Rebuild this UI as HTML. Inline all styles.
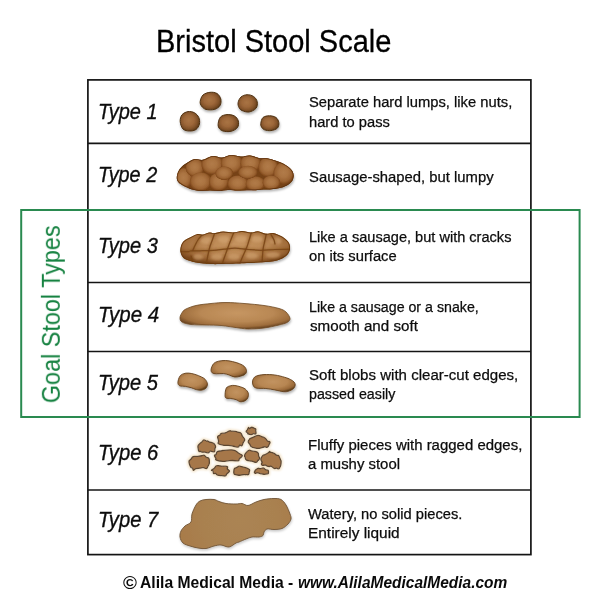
<!DOCTYPE html>
<html><head><meta charset="utf-8"><style>
html,body{margin:0;padding:0;background:#fff;width:600px;height:600px;overflow:hidden}
.t{position:absolute;font-family:"Liberation Sans",sans-serif;line-height:1;white-space:nowrap;transform-origin:0 0}
svg{position:absolute;left:0;top:0}
</style></head><body>
<svg width="600" height="600" viewBox="0 0 600 600">
<defs>
<filter id="sh" x="-30%" y="-30%" width="160%" height="170%"><feDropShadow dx="0.6" dy="2" stdDeviation="1.3" flood-color="#000" flood-opacity="0.30"/></filter>
<filter id="sh2" x="-30%" y="-30%" width="160%" height="170%"><feDropShadow dx="0.5" dy="1.6" stdDeviation="1.2" flood-color="#000" flood-opacity="0.22"/></filter>
<filter id="halo" x="-30%" y="-30%" width="160%" height="160%"><feMorphology in="SourceAlpha" operator="dilate" radius="1.2" result="d"/><feGaussianBlur in="d" stdDeviation="0.8" result="b"/><feFlood flood-color="#f3e3c8"/><feComposite in2="b" operator="in" result="h"/><feMerge><feMergeNode in="h"/><feMergeNode in="SourceGraphic"/></feMerge></filter>
<filter id="bl08"><feGaussianBlur stdDeviation="0.8"/></filter>
<filter id="bl07" x="-20%" y="-20%" width="140%" height="140%"><feGaussianBlur stdDeviation="0.7"/></filter>
<filter id="bl04"><feGaussianBlur stdDeviation="0.4"/></filter>
<radialGradient id="g1" cx="45%" cy="45%" r="58%">
 <stop offset="0" stop-color="#a97444"/><stop offset="0.45" stop-color="#9d6739"/><stop offset="0.75" stop-color="#83532a"/><stop offset="0.92" stop-color="#69421e"/><stop offset="1" stop-color="#573619"/></radialGradient>
<radialGradient id="g2" cx="48%" cy="45%" r="52%">
 <stop offset="0" stop-color="#b17b48"/><stop offset="0.4" stop-color="#ab7442"/><stop offset="0.75" stop-color="#9a6231"/><stop offset="0.95" stop-color="#7e471a"/><stop offset="1" stop-color="#7a4418" stop-opacity="0"/></radialGradient>
<radialGradient id="g3" cx="50%" cy="42%" r="58%">
 <stop offset="0" stop-color="#c69560"/><stop offset="0.5" stop-color="#bb8854"/><stop offset="0.82" stop-color="#a16c3a"/><stop offset="1" stop-color="#7a481c"/></radialGradient>
<radialGradient id="g4" cx="52%" cy="40%" r="60%">
 <stop offset="0" stop-color="#c69662"/><stop offset="0.55" stop-color="#b98854"/><stop offset="0.85" stop-color="#9e6d3c"/><stop offset="1" stop-color="#6a4420"/></radialGradient>
<radialGradient id="g5" cx="48%" cy="42%" r="62%">
 <stop offset="0" stop-color="#c29360"/><stop offset="0.55" stop-color="#b78652"/><stop offset="0.85" stop-color="#986838"/><stop offset="1" stop-color="#60401c"/></radialGradient>
<radialGradient id="g7" gradientUnits="userSpaceOnUse" cx="240" cy="520" r="60">
 <stop offset="0" stop-color="#ab8453"/><stop offset="0.6" stop-color="#a98150"/><stop offset="1" stop-color="#a87b4a"/></radialGradient>
</defs>
<g fill="none" stroke="#141414" stroke-width="1.7">
<rect x="87.9" y="79.9" width="443" height="474.7"/>
<line x1="87.9" y1="143.4" x2="530.9" y2="143.4"/>
<line x1="87.9" y1="210" x2="530.9" y2="210"/>
<line x1="87.9" y1="282.5" x2="530.9" y2="282.5"/>
<line x1="87.9" y1="351.5" x2="530.9" y2="351.5"/>
<line x1="87.9" y1="417" x2="530.9" y2="417"/>
<line x1="87.9" y1="490" x2="530.9" y2="490"/>
</g>
<rect x="21.2" y="210" width="558.4" height="207" fill="none" stroke="#2a8a50" stroke-width="2"/>
<g filter="url(#sh)" stroke="#4f3112" stroke-width="1">
<path d="M180.20,121.50 C180.03,119.13 180.70,116.45 182.00,114.80 C183.30,113.15 185.92,111.93 188.00,111.60 C190.08,111.27 192.70,111.82 194.50,112.80 C196.30,113.78 197.98,115.63 198.80,117.50 C199.62,119.37 199.87,122.00 199.40,124.00 C198.93,126.00 197.65,128.33 196.00,129.50 C194.35,130.67 191.67,131.08 189.50,131.00 C187.33,130.92 184.55,130.58 183.00,129.00 C181.45,127.42 180.37,123.87 180.20,121.50Z" fill="url(#g1)"/>
<path d="M200.20,101.50 C200.45,99.67 201.37,96.53 203.00,95.00 C204.63,93.47 207.67,92.55 210.00,92.30 C212.33,92.05 215.20,92.38 217.00,93.50 C218.80,94.62 220.30,97.00 220.80,99.00 C221.30,101.00 221.05,103.77 220.00,105.50 C218.95,107.23 216.83,108.75 214.50,109.40 C212.17,110.05 208.17,109.97 206.00,109.40 C203.83,108.83 202.47,107.32 201.50,106.00 C200.53,104.68 199.95,103.33 200.20,101.50Z" fill="url(#g1)"/>
<path d="M218.20,123.50 C218.45,121.67 219.03,118.48 220.50,117.00 C221.97,115.52 224.67,114.77 227.00,114.60 C229.33,114.43 232.62,114.93 234.50,116.00 C236.38,117.07 237.80,119.08 238.30,121.00 C238.80,122.92 238.72,125.78 237.50,127.50 C236.28,129.22 233.42,130.72 231.00,131.30 C228.58,131.88 225.00,131.55 223.00,131.00 C221.00,130.45 219.80,129.25 219.00,128.00 C218.20,126.75 217.95,125.33 218.20,123.50Z" fill="url(#g1)"/>
<path d="M238.10,102.60 C238.43,100.85 239.50,98.32 241.00,97.00 C242.50,95.68 245.00,94.78 247.10,94.70 C249.20,94.62 251.92,95.33 253.60,96.50 C255.28,97.67 256.80,99.73 257.20,101.70 C257.60,103.67 257.37,106.58 256.00,108.30 C254.63,110.02 251.33,111.63 249.00,112.00 C246.67,112.37 243.67,111.25 242.00,110.50 C240.33,109.75 239.65,108.82 239.00,107.50 C238.35,106.18 237.77,104.35 238.10,102.60Z" fill="url(#g1)"/>
<path d="M260.80,123.50 C261.05,121.92 261.55,118.78 263.00,117.50 C264.45,116.22 267.33,115.80 269.50,115.80 C271.67,115.80 274.45,116.38 276.00,117.50 C277.55,118.62 278.55,120.75 278.80,122.50 C279.05,124.25 278.80,126.65 277.50,128.00 C276.20,129.35 273.17,130.30 271.00,130.60 C268.83,130.90 266.08,130.40 264.50,129.80 C262.92,129.20 262.12,128.05 261.50,127.00 C260.88,125.95 260.55,125.08 260.80,123.50Z" fill="url(#g1)"/>
</g>
<path d="M176.80,177.70 C176.80,175.95 177.43,173.37 178.30,171.50 C179.17,169.63 180.38,168.03 182.00,166.50 C183.62,164.97 185.83,163.55 188.00,162.30 C190.17,161.05 192.50,159.42 195.00,159.00 C197.50,158.58 200.08,160.30 203.00,159.80 C205.92,159.30 209.33,156.37 212.50,156.00 C215.67,155.63 218.92,157.77 222.00,157.60 C225.08,157.43 227.83,155.17 231.00,155.00 C234.17,154.83 237.83,156.50 241.00,156.60 C244.17,156.70 246.88,155.33 250.00,155.60 C253.12,155.87 256.70,157.73 259.70,158.20 C262.70,158.67 265.28,157.97 268.00,158.40 C270.72,158.83 273.50,159.95 276.00,160.80 C278.50,161.65 280.92,162.47 283.00,163.50 C285.08,164.53 286.95,165.75 288.50,167.00 C290.05,168.25 291.45,169.57 292.30,171.00 C293.15,172.43 293.57,174.02 293.60,175.60 C293.63,177.18 293.35,179.02 292.50,180.50 C291.65,181.98 290.42,183.28 288.50,184.50 C286.58,185.72 283.83,187.02 281.00,187.80 C278.17,188.58 274.33,188.90 271.50,189.20 C268.67,189.50 266.67,189.43 264.00,189.60 C261.33,189.77 258.33,190.10 255.50,190.20 C252.67,190.30 249.92,190.13 247.00,190.20 C244.08,190.27 241.17,190.65 238.00,190.60 C234.83,190.55 231.17,189.83 228.00,189.90 C224.83,189.97 222.00,190.92 219.00,191.00 C216.00,191.08 213.00,190.40 210.00,190.40 C207.00,190.40 204.00,191.15 201.00,191.00 C198.00,190.85 195.00,190.42 192.00,189.50 C189.00,188.58 185.28,186.75 183.00,185.50 C180.72,184.25 179.33,183.30 178.30,182.00 C177.27,180.70 176.80,179.45 176.80,177.70Z" fill="#764218" filter="url(#sh)"/>
<clipPath id="c2"><path d="M176.80,177.70 C176.80,175.95 177.43,173.37 178.30,171.50 C179.17,169.63 180.38,168.03 182.00,166.50 C183.62,164.97 185.83,163.55 188.00,162.30 C190.17,161.05 192.50,159.42 195.00,159.00 C197.50,158.58 200.08,160.30 203.00,159.80 C205.92,159.30 209.33,156.37 212.50,156.00 C215.67,155.63 218.92,157.77 222.00,157.60 C225.08,157.43 227.83,155.17 231.00,155.00 C234.17,154.83 237.83,156.50 241.00,156.60 C244.17,156.70 246.88,155.33 250.00,155.60 C253.12,155.87 256.70,157.73 259.70,158.20 C262.70,158.67 265.28,157.97 268.00,158.40 C270.72,158.83 273.50,159.95 276.00,160.80 C278.50,161.65 280.92,162.47 283.00,163.50 C285.08,164.53 286.95,165.75 288.50,167.00 C290.05,168.25 291.45,169.57 292.30,171.00 C293.15,172.43 293.57,174.02 293.60,175.60 C293.63,177.18 293.35,179.02 292.50,180.50 C291.65,181.98 290.42,183.28 288.50,184.50 C286.58,185.72 283.83,187.02 281.00,187.80 C278.17,188.58 274.33,188.90 271.50,189.20 C268.67,189.50 266.67,189.43 264.00,189.60 C261.33,189.77 258.33,190.10 255.50,190.20 C252.67,190.30 249.92,190.13 247.00,190.20 C244.08,190.27 241.17,190.65 238.00,190.60 C234.83,190.55 231.17,189.83 228.00,189.90 C224.83,189.97 222.00,190.92 219.00,191.00 C216.00,191.08 213.00,190.40 210.00,190.40 C207.00,190.40 204.00,191.15 201.00,191.00 C198.00,190.85 195.00,190.42 192.00,189.50 C189.00,188.58 185.28,186.75 183.00,185.50 C180.72,184.25 179.33,183.30 178.30,182.00 C177.27,180.70 176.80,179.45 176.80,177.70Z"/></clipPath>
<g clip-path="url(#c2)"><g filter="url(#bl07)">
<ellipse cx="183.7" cy="178.8" rx="8.799999999999999" ry="10.8" fill="url(#g2)"/>
<ellipse cx="194.9" cy="168.1" rx="9.2" ry="9.4" fill="url(#g2)"/>
<ellipse cx="212.5" cy="164.9" rx="11.0" ry="10.4" fill="url(#g2)"/>
<ellipse cx="231.8" cy="163.8" rx="11.0" ry="10.2" fill="url(#g2)"/>
<ellipse cx="250.6" cy="163.6" rx="10.399999999999999" ry="9.2" fill="url(#g2)"/>
<ellipse cx="268.2" cy="167.4" rx="10.0" ry="10.3" fill="url(#g2)"/>
<ellipse cx="284" cy="173.5" rx="10.7" ry="11.4" fill="url(#g2)"/>
<ellipse cx="200.8" cy="182" rx="11.0" ry="9.8" fill="url(#g2)"/>
<ellipse cx="218.9" cy="182" rx="10.0" ry="9.4" fill="url(#g2)"/>
<ellipse cx="237.9" cy="183.6" rx="10.399999999999999" ry="8.2" fill="url(#g2)"/>
<ellipse cx="255.5" cy="183.9" rx="9.899999999999999" ry="7.6" fill="url(#g2)"/>
<ellipse cx="271.5" cy="182.8" rx="9.0" ry="7.4" fill="url(#g2)"/>
<ellipse cx="224.3" cy="173.5" rx="9.0" ry="7.0" fill="url(#g2)"/>
<ellipse cx="248" cy="172.6" rx="9.799999999999999" ry="6.8" fill="url(#g2)"/>
</g>
<path d="M176.80,177.70 C176.80,175.95 177.43,173.37 178.30,171.50 C179.17,169.63 180.38,168.03 182.00,166.50 C183.62,164.97 185.83,163.55 188.00,162.30 C190.17,161.05 192.50,159.42 195.00,159.00 C197.50,158.58 200.08,160.30 203.00,159.80 C205.92,159.30 209.33,156.37 212.50,156.00 C215.67,155.63 218.92,157.77 222.00,157.60 C225.08,157.43 227.83,155.17 231.00,155.00 C234.17,154.83 237.83,156.50 241.00,156.60 C244.17,156.70 246.88,155.33 250.00,155.60 C253.12,155.87 256.70,157.73 259.70,158.20 C262.70,158.67 265.28,157.97 268.00,158.40 C270.72,158.83 273.50,159.95 276.00,160.80 C278.50,161.65 280.92,162.47 283.00,163.50 C285.08,164.53 286.95,165.75 288.50,167.00 C290.05,168.25 291.45,169.57 292.30,171.00 C293.15,172.43 293.57,174.02 293.60,175.60 C293.63,177.18 293.35,179.02 292.50,180.50 C291.65,181.98 290.42,183.28 288.50,184.50 C286.58,185.72 283.83,187.02 281.00,187.80 C278.17,188.58 274.33,188.90 271.50,189.20 C268.67,189.50 266.67,189.43 264.00,189.60 C261.33,189.77 258.33,190.10 255.50,190.20 C252.67,190.30 249.92,190.13 247.00,190.20 C244.08,190.27 241.17,190.65 238.00,190.60 C234.83,190.55 231.17,189.83 228.00,189.90 C224.83,189.97 222.00,190.92 219.00,191.00 C216.00,191.08 213.00,190.40 210.00,190.40 C207.00,190.40 204.00,191.15 201.00,191.00 C198.00,190.85 195.00,190.42 192.00,189.50 C189.00,188.58 185.28,186.75 183.00,185.50 C180.72,184.25 179.33,183.30 178.30,182.00 C177.27,180.70 176.80,179.45 176.80,177.70Z" fill="none" stroke="#5e3310" stroke-width="1.5" filter="url(#bl04)"/>
</g>
<clipPath id="c3"><path d="M180.40,251.00 C180.23,249.33 180.57,247.50 181.00,246.00 C181.43,244.50 182.17,243.08 183.00,242.00 C183.83,240.92 184.67,240.33 186.00,239.50 C187.33,238.67 189.17,237.88 191.00,237.00 C192.83,236.12 195.00,234.60 197.00,234.20 C199.00,233.80 201.00,234.88 203.00,234.60 C205.00,234.32 207.08,232.73 209.00,232.50 C210.92,232.27 212.17,233.35 214.50,233.20 C216.83,233.05 219.83,231.73 223.00,231.60 C226.17,231.47 230.33,232.50 233.50,232.40 C236.67,232.30 239.08,230.97 242.00,231.00 C244.92,231.03 248.33,232.55 251.00,232.60 C253.67,232.65 255.50,231.10 258.00,231.30 C260.50,231.50 263.50,233.52 266.00,233.80 C268.50,234.08 270.33,232.55 273.00,233.00 C275.67,233.45 279.50,235.08 282.00,236.50 C284.50,237.92 286.68,239.92 288.00,241.50 C289.32,243.08 289.65,244.42 289.90,246.00 C290.15,247.58 290.15,249.33 289.50,251.00 C288.85,252.67 288.08,254.42 286.00,256.00 C283.92,257.58 281.00,259.45 277.00,260.50 C273.00,261.55 267.00,261.88 262.00,262.30 C257.00,262.72 251.33,262.78 247.00,263.00 C242.67,263.22 240.17,263.43 236.00,263.60 C231.83,263.77 226.17,263.93 222.00,264.00 C217.83,264.07 215.33,264.25 211.00,264.00 C206.67,263.75 200.17,263.25 196.00,262.50 C191.83,261.75 188.33,260.58 186.00,259.50 C183.67,258.42 182.93,257.42 182.00,256.00 C181.07,254.58 180.57,252.67 180.40,251.00Z"/></clipPath>
<path d="M180.40,251.00 C180.23,249.33 180.57,247.50 181.00,246.00 C181.43,244.50 182.17,243.08 183.00,242.00 C183.83,240.92 184.67,240.33 186.00,239.50 C187.33,238.67 189.17,237.88 191.00,237.00 C192.83,236.12 195.00,234.60 197.00,234.20 C199.00,233.80 201.00,234.88 203.00,234.60 C205.00,234.32 207.08,232.73 209.00,232.50 C210.92,232.27 212.17,233.35 214.50,233.20 C216.83,233.05 219.83,231.73 223.00,231.60 C226.17,231.47 230.33,232.50 233.50,232.40 C236.67,232.30 239.08,230.97 242.00,231.00 C244.92,231.03 248.33,232.55 251.00,232.60 C253.67,232.65 255.50,231.10 258.00,231.30 C260.50,231.50 263.50,233.52 266.00,233.80 C268.50,234.08 270.33,232.55 273.00,233.00 C275.67,233.45 279.50,235.08 282.00,236.50 C284.50,237.92 286.68,239.92 288.00,241.50 C289.32,243.08 289.65,244.42 289.90,246.00 C290.15,247.58 290.15,249.33 289.50,251.00 C288.85,252.67 288.08,254.42 286.00,256.00 C283.92,257.58 281.00,259.45 277.00,260.50 C273.00,261.55 267.00,261.88 262.00,262.30 C257.00,262.72 251.33,262.78 247.00,263.00 C242.67,263.22 240.17,263.43 236.00,263.60 C231.83,263.77 226.17,263.93 222.00,264.00 C217.83,264.07 215.33,264.25 211.00,264.00 C206.67,263.75 200.17,263.25 196.00,262.50 C191.83,261.75 188.33,260.58 186.00,259.50 C183.67,258.42 182.93,257.42 182.00,256.00 C181.07,254.58 180.57,252.67 180.40,251.00Z" fill="url(#g3)" filter="url(#sh)"/>
<g clip-path="url(#c3)">
<ellipse cx="207" cy="240.5" rx="7" ry="3.5" fill="#d8ab7a" opacity="0.5" filter="url(#bl08)"/>
<ellipse cx="224" cy="239.5" rx="6" ry="3.5" fill="#d8ab7a" opacity="0.5" filter="url(#bl08)"/>
<ellipse cx="241" cy="239" rx="6" ry="3.5" fill="#d8ab7a" opacity="0.5" filter="url(#bl08)"/>
<ellipse cx="257" cy="239" rx="6" ry="3.5" fill="#d8ab7a" opacity="0.5" filter="url(#bl08)"/>
<ellipse cx="276" cy="241" rx="6" ry="3.5" fill="#d8ab7a" opacity="0.5" filter="url(#bl08)"/>
<ellipse cx="198" cy="257" rx="5" ry="3" fill="#d8ab7a" opacity="0.5" filter="url(#bl08)"/>
<ellipse cx="217" cy="257" rx="6" ry="3" fill="#d8ab7a" opacity="0.5" filter="url(#bl08)"/>
<ellipse cx="234" cy="257" rx="6" ry="3" fill="#d8ab7a" opacity="0.5" filter="url(#bl08)"/>
<ellipse cx="252" cy="256" rx="6" ry="3" fill="#d8ab7a" opacity="0.5" filter="url(#bl08)"/>
<ellipse cx="273" cy="255" rx="7" ry="3" fill="#d8ab7a" opacity="0.5" filter="url(#bl08)"/>
<g fill="none" stroke="#6e3a10" stroke-width="3.2" stroke-opacity="0.28" stroke-linecap="round" filter="url(#bl08)">
<path d="M181.00,251.50 C182.33,251.52 187.67,251.58 189.00,251.60"/>
<path d="M192.80,250.30 C193.25,249.33 194.60,246.30 195.50,244.50 C196.40,242.70 197.12,241.08 198.20,239.50 C199.28,237.92 201.37,235.75 202.00,235.00"/>
<path d="M190.00,251.00 C191.67,250.97 196.12,250.92 200.00,250.80 C203.88,250.68 209.30,250.57 213.30,250.30 C217.30,250.03 220.38,249.55 224.00,249.20 C227.62,248.85 231.00,248.15 235.00,248.20 C239.00,248.25 243.67,249.15 248.00,249.50 C252.33,249.85 256.50,250.30 261.00,250.30 C265.50,250.30 270.17,249.67 275.00,249.50 C279.83,249.33 287.50,249.33 290.00,249.30"/>
<path d="M215.00,232.00 C214.58,233.25 213.32,237.17 212.50,239.50 C211.68,241.83 210.80,243.67 210.10,246.00 C209.40,248.33 208.85,250.97 208.30,253.50 C207.75,256.03 207.10,259.28 206.80,261.20 C206.50,263.12 206.55,264.37 206.50,265.00"/>
<path d="M234.20,231.50 C233.70,232.75 232.15,236.58 231.20,239.00 C230.25,241.42 229.40,243.58 228.50,246.00 C227.60,248.42 226.70,250.97 225.80,253.50 C224.90,256.03 223.60,259.28 223.10,261.20 C222.60,263.12 222.85,264.37 222.80,265.00"/>
<path d="M191.00,256.00 C191.25,257.00 192.25,261.00 192.50,262.00"/>
<path d="M251.50,232.00 C251.13,233.25 250.07,237.00 249.30,239.50 C248.53,242.00 247.85,244.50 246.90,247.00 C245.95,249.50 244.68,251.95 243.60,254.50 C242.52,257.05 241.00,260.55 240.40,262.30 C239.80,264.05 240.07,264.55 240.00,265.00"/>
<path d="M266.40,233.50 C266.13,234.75 265.33,238.55 264.80,241.00 C264.27,243.45 263.57,245.92 263.20,248.20 C262.83,250.48 262.78,252.53 262.60,254.70 C262.42,256.87 262.20,259.48 262.10,261.20 C262.00,262.92 262.02,264.37 262.00,265.00"/>
<path d="M271.00,234.50 C271.50,235.42 273.33,238.42 274.00,240.00 C274.67,241.58 274.83,243.33 275.00,244.00"/>
</g>
<g fill="none" stroke="#7a4516" stroke-width="1.25" stroke-opacity="0.9" stroke-linecap="round" stroke-linejoin="round" filter="url(#bl04)">
<path d="M181.00,251.50 C182.33,251.52 187.67,251.58 189.00,251.60"/>
<path d="M192.80,250.30 C193.25,249.33 194.60,246.30 195.50,244.50 C196.40,242.70 197.12,241.08 198.20,239.50 C199.28,237.92 201.37,235.75 202.00,235.00"/>
<path d="M190.00,251.00 C191.67,250.97 196.12,250.92 200.00,250.80 C203.88,250.68 209.30,250.57 213.30,250.30 C217.30,250.03 220.38,249.55 224.00,249.20 C227.62,248.85 231.00,248.15 235.00,248.20 C239.00,248.25 243.67,249.15 248.00,249.50 C252.33,249.85 256.50,250.30 261.00,250.30 C265.50,250.30 270.17,249.67 275.00,249.50 C279.83,249.33 287.50,249.33 290.00,249.30"/>
<path d="M215.00,232.00 C214.58,233.25 213.32,237.17 212.50,239.50 C211.68,241.83 210.80,243.67 210.10,246.00 C209.40,248.33 208.85,250.97 208.30,253.50 C207.75,256.03 207.10,259.28 206.80,261.20 C206.50,263.12 206.55,264.37 206.50,265.00"/>
<path d="M234.20,231.50 C233.70,232.75 232.15,236.58 231.20,239.00 C230.25,241.42 229.40,243.58 228.50,246.00 C227.60,248.42 226.70,250.97 225.80,253.50 C224.90,256.03 223.60,259.28 223.10,261.20 C222.60,263.12 222.85,264.37 222.80,265.00"/>
<path d="M191.00,256.00 C191.25,257.00 192.25,261.00 192.50,262.00"/>
<path d="M251.50,232.00 C251.13,233.25 250.07,237.00 249.30,239.50 C248.53,242.00 247.85,244.50 246.90,247.00 C245.95,249.50 244.68,251.95 243.60,254.50 C242.52,257.05 241.00,260.55 240.40,262.30 C239.80,264.05 240.07,264.55 240.00,265.00"/>
<path d="M266.40,233.50 C266.13,234.75 265.33,238.55 264.80,241.00 C264.27,243.45 263.57,245.92 263.20,248.20 C262.83,250.48 262.78,252.53 262.60,254.70 C262.42,256.87 262.20,259.48 262.10,261.20 C262.00,262.92 262.02,264.37 262.00,265.00"/>
<path d="M271.00,234.50 C271.50,235.42 273.33,238.42 274.00,240.00 C274.67,241.58 274.83,243.33 275.00,244.00"/>
</g>
<path d="M180.40,251.00 C180.23,249.33 180.57,247.50 181.00,246.00 C181.43,244.50 182.17,243.08 183.00,242.00 C183.83,240.92 184.67,240.33 186.00,239.50 C187.33,238.67 189.17,237.88 191.00,237.00 C192.83,236.12 195.00,234.60 197.00,234.20 C199.00,233.80 201.00,234.88 203.00,234.60 C205.00,234.32 207.08,232.73 209.00,232.50 C210.92,232.27 212.17,233.35 214.50,233.20 C216.83,233.05 219.83,231.73 223.00,231.60 C226.17,231.47 230.33,232.50 233.50,232.40 C236.67,232.30 239.08,230.97 242.00,231.00 C244.92,231.03 248.33,232.55 251.00,232.60 C253.67,232.65 255.50,231.10 258.00,231.30 C260.50,231.50 263.50,233.52 266.00,233.80 C268.50,234.08 270.33,232.55 273.00,233.00 C275.67,233.45 279.50,235.08 282.00,236.50 C284.50,237.92 286.68,239.92 288.00,241.50 C289.32,243.08 289.65,244.42 289.90,246.00 C290.15,247.58 290.15,249.33 289.50,251.00 C288.85,252.67 288.08,254.42 286.00,256.00 C283.92,257.58 281.00,259.45 277.00,260.50 C273.00,261.55 267.00,261.88 262.00,262.30 C257.00,262.72 251.33,262.78 247.00,263.00 C242.67,263.22 240.17,263.43 236.00,263.60 C231.83,263.77 226.17,263.93 222.00,264.00 C217.83,264.07 215.33,264.25 211.00,264.00 C206.67,263.75 200.17,263.25 196.00,262.50 C191.83,261.75 188.33,260.58 186.00,259.50 C183.67,258.42 182.93,257.42 182.00,256.00 C181.07,254.58 180.57,252.67 180.40,251.00Z" fill="none" stroke="#6a3a10" stroke-width="1.8" filter="url(#bl04)"/>
</g>
<path d="M180.00,317.50 C180.08,315.83 181.50,313.42 182.50,312.00 C183.50,310.58 183.75,310.08 186.00,309.00 C188.25,307.92 191.83,306.42 196.00,305.50 C200.17,304.58 206.00,304.00 211.00,303.50 C216.00,303.00 220.50,302.50 226.00,302.50 C231.50,302.50 237.67,303.00 244.00,303.50 C250.33,304.00 258.17,304.67 264.00,305.50 C269.83,306.33 275.33,307.42 279.00,308.50 C282.67,309.58 284.17,310.33 286.00,312.00 C287.83,313.67 289.83,316.75 290.00,318.50 C290.17,320.25 288.83,321.42 287.00,322.50 C285.17,323.58 282.83,324.08 279.00,325.00 C275.17,325.92 269.00,327.33 264.00,328.00 C259.00,328.67 253.17,329.00 249.00,329.00 C244.83,329.00 243.67,328.58 239.00,328.00 C234.33,327.42 226.50,326.00 221.00,325.50 C215.50,325.00 211.00,325.17 206.00,325.00 C201.00,324.83 195.00,325.00 191.00,324.50 C187.00,324.00 183.83,323.17 182.00,322.00 C180.17,320.83 179.92,319.17 180.00,317.50Z" fill="url(#g4)" stroke="#6f4a24" stroke-width="0.8" filter="url(#sh)"/>
<g filter="url(#sh)" stroke="#63401c" stroke-width="0.9">
<path d="M177.90,382.60 C177.90,381.02 178.85,377.78 179.80,376.30 C180.75,374.82 182.12,374.23 183.60,373.70 C185.08,373.17 186.80,372.98 188.70,373.10 C190.60,373.22 192.90,373.77 195.00,374.40 C197.10,375.03 199.60,376.07 201.30,376.90 C203.00,377.73 204.18,378.23 205.20,379.40 C206.22,380.57 207.30,382.42 207.40,383.90 C207.50,385.38 206.82,387.25 205.80,388.30 C204.78,389.35 202.88,389.98 201.30,390.20 C199.72,390.42 197.98,390.02 196.30,389.60 C194.62,389.18 193.00,388.23 191.20,387.70 C189.40,387.17 187.40,386.72 185.50,386.40 C183.60,386.08 181.07,386.43 179.80,385.80 C178.53,385.17 177.90,384.18 177.90,382.60Z" fill="url(#g5)"/>
<path d="M211.10,369.30 C211.33,367.78 212.37,365.05 213.60,363.70 C214.83,362.35 216.52,361.73 218.50,361.20 C220.48,360.67 223.17,360.43 225.50,360.50 C227.83,360.57 230.17,361.07 232.50,361.60 C234.83,362.13 237.52,362.88 239.50,363.70 C241.48,364.52 243.23,365.33 244.40,366.50 C245.57,367.67 246.38,369.42 246.50,370.70 C246.62,371.98 246.15,373.27 245.10,374.20 C244.05,375.13 241.95,375.83 240.20,376.30 C238.45,376.77 236.47,377.23 234.60,377.00 C232.73,376.77 230.87,375.48 229.00,374.90 C227.13,374.32 225.50,373.68 223.40,373.50 C221.30,373.32 218.27,373.92 216.40,373.80 C214.53,373.68 213.08,373.55 212.20,372.80 C211.32,372.05 210.87,370.82 211.10,369.30Z" fill="url(#g5)"/>
<path d="M225.10,394.30 C225.18,392.62 225.47,389.33 226.40,387.90 C227.33,386.47 229.28,386.10 230.70,385.70 C232.12,385.30 233.30,385.32 234.90,385.50 C236.50,385.68 238.60,386.23 240.30,386.80 C242.00,387.37 243.77,387.83 245.10,388.90 C246.43,389.97 247.87,391.68 248.30,393.20 C248.73,394.72 248.23,396.75 247.70,398.00 C247.17,399.25 246.33,400.08 245.10,400.70 C243.87,401.32 241.82,401.88 240.30,401.70 C238.78,401.52 237.60,400.13 236.00,399.60 C234.40,399.07 232.38,398.77 230.70,398.50 C229.02,398.23 226.83,398.70 225.90,398.00 C224.97,397.30 225.02,395.98 225.10,394.30Z" fill="url(#g5)"/>
<path d="M252.50,382.00 C252.50,380.72 252.83,379.50 253.50,378.50 C254.17,377.50 254.75,376.65 256.50,376.00 C258.25,375.35 260.95,374.77 264.00,374.60 C267.05,374.43 271.35,374.55 274.80,375.00 C278.25,375.45 282.08,376.55 284.70,377.30 C287.32,378.05 288.95,378.72 290.50,379.50 C292.05,380.28 293.22,381.08 294.00,382.00 C294.78,382.92 295.28,383.92 295.20,385.00 C295.12,386.08 294.53,387.50 293.50,388.50 C292.47,389.50 290.62,390.47 289.00,391.00 C287.38,391.53 286.17,391.88 283.80,391.70 C281.43,391.52 277.80,390.43 274.80,389.90 C271.80,389.37 268.77,388.78 265.80,388.50 C262.83,388.22 259.05,388.58 257.00,388.20 C254.95,387.82 254.25,387.23 253.50,386.20 C252.75,385.17 252.50,383.28 252.50,382.00Z" fill="url(#g5)"/>
</g>
<g filter="url(#halo)"><g fill="#a6774a" stroke="#5c4632" stroke-width="1.3" stroke-linejoin="round" filter="url(#bl04)">
<path d="M246.08,431.57 C245.90,430.86 246.63,430.96 247.19,430.02 C247.76,429.07 247.98,427.86 248.50,427.50 C249.02,427.15 248.67,428.54 249.42,428.49 C250.17,428.44 250.53,427.31 251.71,427.27 C252.90,427.24 253.53,427.94 254.49,428.35 C255.46,428.77 255.54,428.57 255.84,429.06 C256.14,429.55 255.73,429.41 255.77,430.44 C255.81,431.47 256.27,432.66 256.02,433.49 C255.76,434.32 255.21,433.96 254.69,433.99 C254.16,434.01 254.56,433.45 253.77,433.60 C252.99,433.76 252.66,434.56 251.31,434.65 C249.96,434.73 248.76,434.32 247.98,433.95 C247.21,433.58 248.43,433.61 247.98,433.06 C247.54,432.50 246.27,432.28 246.08,431.57Z"/>
<path d="M217.65,436.71 C217.92,435.33 218.88,435.95 219.74,435.17 C220.60,434.40 220.08,433.91 221.33,433.38 C222.58,432.85 223.20,433.49 225.11,432.90 C227.02,432.31 228.07,431.29 229.51,430.86 C230.94,430.42 229.86,430.92 231.27,431.05 C232.68,431.17 233.96,431.16 235.54,431.40 C237.13,431.64 236.80,431.68 238.05,432.08 C239.30,432.48 239.87,432.15 240.91,433.12 C241.95,434.09 241.62,434.74 242.51,436.24 C243.40,437.74 244.56,438.05 244.73,439.55 C244.91,441.04 243.91,441.18 243.24,442.64 C242.57,444.09 242.69,445.20 241.87,445.79 C241.05,446.37 240.59,444.84 239.72,445.16 C238.86,445.48 239.64,446.89 238.18,447.14 C236.71,447.40 235.74,446.66 233.45,446.26 C231.15,445.86 230.57,445.66 228.34,445.44 C226.11,445.22 226.21,445.70 223.88,445.32 C221.55,444.94 219.60,444.79 218.36,443.80 C217.12,442.81 218.73,442.74 218.57,441.08 C218.40,439.43 217.38,438.09 217.65,436.71Z"/>
<path d="M248.14,441.78 C248.12,440.60 249.09,439.87 249.61,439.09 C250.13,438.31 249.11,439.08 250.37,438.43 C251.63,437.78 253.15,437.03 255.00,436.32 C256.84,435.61 256.71,435.32 258.28,435.37 C259.86,435.42 260.11,435.85 261.75,436.53 C263.39,437.21 263.97,437.25 265.31,438.27 C266.65,439.29 266.42,440.02 267.51,440.90 C268.60,441.77 269.59,441.24 270.00,442.02 C270.40,442.81 269.86,443.05 269.26,444.25 C268.66,445.45 268.61,446.51 267.42,447.15 C266.22,447.79 266.03,446.71 264.13,447.00 C262.23,447.29 261.39,448.14 259.27,448.39 C257.15,448.64 256.90,448.48 255.05,448.08 C253.20,447.69 252.59,447.63 251.33,446.70 C250.08,445.78 250.43,445.28 249.69,444.13 C248.94,442.98 248.16,442.96 248.14,441.78Z"/>
<path d="M197.93,446.05 C198.13,445.16 198.30,445.27 198.94,444.49 C199.59,443.71 199.99,443.33 200.70,442.71 C201.42,442.10 201.27,442.49 201.99,441.85 C202.71,441.22 202.70,440.17 203.78,439.98 C204.86,439.79 205.73,440.82 206.61,441.03 C207.50,441.25 206.87,440.67 207.58,440.92 C208.29,441.16 208.79,441.74 209.66,442.08 C210.54,442.42 210.33,442.03 211.33,442.39 C212.33,442.74 212.96,442.67 213.96,443.60 C214.96,444.52 215.36,445.15 215.60,446.35 C215.84,447.54 215.28,447.42 214.99,448.71 C214.69,450.01 215.39,451.34 214.33,451.88 C213.27,452.43 211.75,450.85 210.44,451.05 C209.12,451.25 209.96,452.48 208.68,452.74 C207.40,453.01 206.41,452.30 204.95,452.18 C203.50,452.06 203.49,452.37 202.45,452.21 C201.41,452.05 201.31,451.72 200.48,451.50 C199.65,451.28 199.45,452.00 198.89,451.25 C198.33,450.51 198.30,449.52 198.08,448.30 C197.86,447.09 197.73,446.94 197.93,446.05Z"/>
<path d="M214.44,455.44 C214.45,454.50 215.27,455.38 215.96,454.48 C216.65,453.57 216.22,452.39 217.40,451.56 C218.57,450.72 219.73,451.13 220.99,450.88 C222.25,450.63 220.84,450.71 222.80,450.50 C224.76,450.28 226.63,450.00 229.37,449.96 C232.10,449.93 232.31,449.56 234.52,450.33 C236.72,451.11 237.00,452.06 238.83,453.30 C240.67,454.55 242.23,454.39 242.37,455.67 C242.51,456.95 240.41,457.59 239.44,458.79 C238.47,459.99 239.87,460.42 238.22,460.82 C236.56,461.22 234.73,460.50 232.36,460.49 C229.99,460.49 230.26,460.60 228.05,460.81 C225.84,461.01 225.63,461.57 222.89,461.39 C220.15,461.21 217.93,460.71 216.29,460.05 C214.66,459.38 216.33,459.60 215.89,458.53 C215.46,457.45 214.42,456.39 214.44,455.44Z"/>
<path d="M244.59,455.45 C244.78,454.39 244.77,454.03 245.86,452.82 C246.95,451.60 247.88,450.68 249.27,450.23 C250.66,449.79 250.43,450.66 251.80,450.92 C253.18,451.18 253.71,450.90 255.17,451.36 C256.63,451.81 257.25,451.76 258.07,452.85 C258.90,453.94 258.34,454.77 258.71,456.01 C259.08,457.25 259.71,457.20 259.66,458.18 C259.61,459.16 258.91,459.75 258.49,460.22 C258.08,460.69 258.42,459.71 257.88,460.21 C257.35,460.70 257.66,462.12 256.19,462.34 C254.73,462.55 253.86,461.64 251.61,461.13 C249.36,460.62 248.09,461.03 246.56,460.15 C245.03,459.27 245.52,458.45 245.06,457.36 C244.60,456.26 244.40,456.51 244.59,455.45Z"/>
<path d="M261.64,456.96 C262.16,455.91 262.44,455.67 263.05,455.17 C263.65,454.67 263.31,455.19 264.25,454.81 C265.19,454.43 265.77,454.32 267.08,453.53 C268.38,452.74 269.20,451.69 269.84,451.42 C270.48,451.16 269.44,452.17 269.82,452.39 C270.20,452.62 270.36,452.09 271.47,452.38 C272.59,452.67 273.42,452.98 274.61,453.64 C275.80,454.30 275.65,454.78 276.56,455.20 C277.48,455.62 277.82,454.92 278.53,455.45 C279.24,455.98 279.11,456.44 279.60,457.48 C280.10,458.52 280.30,458.96 280.66,459.90 C281.03,460.84 281.14,460.25 281.16,461.52 C281.18,462.78 281.15,463.78 280.76,465.31 C280.36,466.84 279.98,467.25 279.47,468.07 C278.97,468.88 279.31,468.76 278.57,468.79 C277.84,468.82 277.36,468.30 276.32,468.21 C275.27,468.13 275.28,468.87 274.11,468.43 C272.93,467.99 272.41,466.79 271.28,466.33 C270.15,465.88 270.24,466.54 269.28,466.49 C268.32,466.45 268.07,466.46 267.18,466.16 C266.28,465.86 266.65,465.43 265.44,465.20 C264.23,464.98 262.91,465.67 261.99,465.20 C261.07,464.74 261.44,463.82 261.50,463.21 C261.56,462.59 262.41,463.40 262.26,462.57 C262.11,461.74 260.98,460.96 260.84,459.65 C260.69,458.34 261.13,458.00 261.64,456.96Z"/>
<path d="M189.01,461.00 C189.31,459.93 189.81,460.40 190.66,459.44 C191.51,458.47 191.67,457.59 192.64,456.88 C193.61,456.16 193.67,456.51 194.81,456.38 C195.94,456.24 195.88,456.43 197.50,456.29 C199.12,456.14 200.22,456.02 201.75,455.76 C203.27,455.50 202.95,454.83 204.03,455.19 C205.10,455.54 205.22,456.54 206.35,457.27 C207.47,458.00 208.16,457.32 208.85,458.31 C209.55,459.30 209.25,460.19 209.33,461.50 C209.41,462.80 209.53,462.72 209.19,463.90 C208.86,465.07 208.55,465.42 207.89,466.52 C207.24,467.62 207.47,468.34 206.37,468.61 C205.27,468.88 204.66,467.79 203.19,467.69 C201.71,467.60 201.72,467.98 200.06,468.21 C198.40,468.44 197.62,468.19 196.06,468.68 C194.51,469.17 194.20,470.44 193.38,470.31 C192.56,470.17 193.14,468.79 192.55,468.10 C191.95,467.41 191.58,468.31 190.84,467.37 C190.09,466.42 189.80,465.53 189.37,464.04 C188.94,462.56 188.70,462.08 189.01,461.00Z"/>
<path d="M211.50,470.20 C211.80,469.56 213.12,469.25 214.26,468.22 C215.40,467.19 215.03,466.32 216.37,465.77 C217.70,465.22 218.50,465.77 219.97,465.85 C221.44,465.94 221.63,466.08 222.67,466.14 C223.70,466.21 223.27,466.01 224.41,466.13 C225.55,466.25 226.85,466.03 227.54,466.67 C228.22,467.31 226.89,467.83 227.35,468.86 C227.81,469.89 229.65,469.89 229.51,471.09 C229.37,472.29 227.67,472.88 226.74,474.00 C225.80,475.11 226.66,475.47 225.49,475.85 C224.33,476.23 223.59,475.83 221.73,475.64 C219.87,475.45 218.99,475.54 217.52,475.03 C216.05,474.52 216.36,473.81 215.43,473.46 C214.50,473.11 214.11,474.10 213.53,473.52 C212.95,472.94 213.42,471.74 212.94,470.97 C212.47,470.20 211.19,470.84 211.50,470.20Z"/>
<path d="M233.80,471.40 C233.92,470.40 233.65,469.45 234.35,468.52 C235.05,467.59 235.70,467.97 236.80,467.42 C237.91,466.88 237.90,466.36 239.09,466.19 C240.28,466.02 240.19,466.28 241.90,466.69 C243.61,467.09 244.64,467.27 246.41,467.93 C248.18,468.59 248.82,468.60 249.49,469.53 C250.15,470.47 249.46,470.78 249.26,471.92 C249.06,473.05 249.26,473.75 248.63,474.40 C248.00,475.05 247.94,474.63 246.56,474.71 C245.17,474.79 244.55,474.63 242.70,474.76 C240.84,474.89 240.50,475.34 238.61,475.26 C236.71,475.18 235.69,475.01 234.58,474.43 C233.46,473.85 234.01,473.49 233.82,472.78 C233.64,472.07 233.68,472.39 233.80,471.40Z"/>
<path d="M255.04,471.04 C255.23,470.58 254.49,470.98 255.15,470.35 C255.81,469.71 256.65,468.72 257.87,468.33 C259.08,467.93 259.11,468.74 260.36,468.65 C261.60,468.56 261.98,467.70 263.20,467.93 C264.41,468.16 264.42,469.09 265.57,469.64 C266.71,470.18 267.43,469.53 268.10,470.27 C268.78,471.02 268.58,472.00 268.46,472.83 C268.33,473.66 268.66,473.49 267.57,473.83 C266.49,474.16 265.55,474.34 263.81,474.27 C262.08,474.20 261.68,473.84 260.14,473.53 C258.59,473.22 258.33,472.99 257.20,472.94 C256.06,472.89 255.94,473.45 255.27,473.31 C254.60,473.17 254.38,472.86 254.33,472.33 C254.27,471.80 254.84,471.50 255.04,471.04Z"/>
</g></g>
<path d="M196.00,505.00 C197.33,502.83 198.33,501.92 200.00,501.00 C201.67,500.08 203.67,499.75 206.00,499.50 C208.33,499.25 211.83,499.17 214.00,499.50 C216.17,499.83 217.00,500.83 219.00,501.50 C221.00,502.17 223.17,503.08 226.00,503.50 C228.83,503.92 233.33,504.00 236.00,504.00 C238.67,504.00 240.00,503.25 242.00,503.50 C244.00,503.75 245.67,505.75 248.00,505.50 C250.33,505.25 253.33,503.00 256.00,502.00 C258.67,501.00 261.00,500.08 264.00,499.50 C267.00,498.92 271.17,498.50 274.00,498.50 C276.83,498.50 279.00,498.42 281.00,499.50 C283.00,500.58 284.50,502.58 286.00,505.00 C287.50,507.42 289.17,511.67 290.00,514.00 C290.83,516.33 291.33,517.33 291.00,519.00 C290.67,520.67 289.50,522.42 288.00,524.00 C286.50,525.58 284.33,527.58 282.00,528.50 C279.67,529.42 276.50,529.42 274.00,529.50 C271.50,529.58 268.67,528.58 267.00,529.00 C265.33,529.42 264.67,530.92 264.00,532.00 C263.33,533.08 263.83,534.67 263.00,535.50 C262.17,536.33 260.83,536.75 259.00,537.00 C257.17,537.25 254.17,536.67 252.00,537.00 C249.83,537.33 248.17,538.17 246.00,539.00 C243.83,539.83 240.67,541.33 239.00,542.00 C237.33,542.67 237.67,542.17 236.00,543.00 C234.33,543.83 231.50,546.67 229.00,547.00 C226.50,547.33 223.50,545.17 221.00,545.00 C218.50,544.83 216.50,545.42 214.00,546.00 C211.50,546.58 208.67,548.17 206.00,548.50 C203.33,548.83 200.67,548.42 198.00,548.00 C195.33,547.58 192.50,546.83 190.00,546.00 C187.50,545.17 184.67,544.50 183.00,543.00 C181.33,541.50 180.33,539.00 180.00,537.00 C179.67,535.00 180.17,532.83 181.00,531.00 C181.83,529.17 183.33,527.50 185.00,526.00 C186.67,524.50 189.83,524.00 191.00,522.00 C192.17,520.00 191.17,516.83 192.00,514.00 C192.83,511.17 194.67,507.17 196.00,505.00Z" fill="url(#g7)" stroke="#6f5336" stroke-width="0.9" filter="url(#sh2)"/>
</svg>
<div class="t" style="left:155.93px;top:25.74px;font-size:31.61px;font-style:normal;font-weight:normal;color:#000;transform:scaleX(0.9175);-webkit-text-stroke:0.3px #000;">Bristol Stool Scale</div>
<div class="t" style="left:98.40px;top:99.58px;font-size:22.82px;font-style:italic;font-weight:normal;color:#0d0d0d;transform:scaleX(0.8749);-webkit-text-stroke:0.35px #0d0d0d;">Type 1</div>
<div class="t" style="left:98.41px;top:162.88px;font-size:22.82px;font-style:italic;font-weight:normal;color:#0d0d0d;transform:scaleX(0.8703);-webkit-text-stroke:0.35px #0d0d0d;">Type 2</div>
<div class="t" style="left:98.39px;top:233.98px;font-size:22.82px;font-style:italic;font-weight:normal;color:#0d0d0d;transform:scaleX(0.8795);-webkit-text-stroke:0.35px #0d0d0d;">Type 3</div>
<div class="t" style="left:98.36px;top:302.88px;font-size:22.82px;font-style:italic;font-weight:normal;color:#0d0d0d;transform:scaleX(0.8980);-webkit-text-stroke:0.35px #0d0d0d;">Type 4</div>
<div class="t" style="left:98.39px;top:370.88px;font-size:22.82px;font-style:italic;font-weight:normal;color:#0d0d0d;transform:scaleX(0.8825);-webkit-text-stroke:0.35px #0d0d0d;">Type 5</div>
<div class="t" style="left:98.38px;top:440.98px;font-size:22.82px;font-style:italic;font-weight:normal;color:#0d0d0d;transform:scaleX(0.8855);-webkit-text-stroke:0.35px #0d0d0d;">Type 6</div>
<div class="t" style="left:98.38px;top:507.98px;font-size:22.82px;font-style:italic;font-weight:normal;color:#0d0d0d;transform:scaleX(0.8854);-webkit-text-stroke:0.35px #0d0d0d;">Type 7</div>
<div class="t" style="left:309.26px;top:95.10px;font-size:14.53px;font-style:normal;font-weight:normal;color:#0d0d0d;transform:scaleX(1.0156);-webkit-text-stroke:0.25px #0d0d0d;">Separate hard lumps, like nuts,</div>
<div class="t" style="left:308.97px;top:114.80px;font-size:14.53px;font-style:normal;font-weight:normal;color:#0d0d0d;transform:scaleX(1.0129);-webkit-text-stroke:0.25px #0d0d0d;">hard to pass</div>
<div class="t" style="left:309.26px;top:170.20px;font-size:14.53px;font-style:normal;font-weight:normal;color:#0d0d0d;transform:scaleX(1.0209);-webkit-text-stroke:0.25px #0d0d0d;">Sausage-shaped, but lumpy</div>
<div class="t" style="left:308.83px;top:229.70px;font-size:14.53px;font-style:normal;font-weight:normal;color:#0d0d0d;transform:scaleX(1.0035);-webkit-text-stroke:0.25px #0d0d0d;">Like a sausage, but with cracks</div>
<div class="t" style="left:309.41px;top:248.70px;font-size:14.53px;font-style:normal;font-weight:normal;color:#0d0d0d;transform:scaleX(1.0156);-webkit-text-stroke:0.25px #0d0d0d;">on its surface</div>
<div class="t" style="left:308.86px;top:300.20px;font-size:14.53px;font-style:normal;font-weight:normal;color:#0d0d0d;transform:scaleX(0.9783);-webkit-text-stroke:0.25px #0d0d0d;">Like a sausage or a snake,</div>
<div class="t" style="left:309.54px;top:319.20px;font-size:14.53px;font-style:normal;font-weight:normal;color:#0d0d0d;transform:scaleX(1.0446);-webkit-text-stroke:0.25px #0d0d0d;">smooth and soft</div>
<div class="t" style="left:308.75px;top:367.70px;font-size:14.53px;font-style:normal;font-weight:normal;color:#0d0d0d;transform:scaleX(1.0375);-webkit-text-stroke:0.25px #0d0d0d;">Soft blobs with clear-cut edges,</div>
<div class="t" style="left:309.00px;top:386.70px;font-size:14.53px;font-style:normal;font-weight:normal;color:#0d0d0d;transform:scaleX(0.9820);-webkit-text-stroke:0.25px #0d0d0d;">passed easily</div>
<div class="t" style="left:307.80px;top:437.70px;font-size:14.53px;font-style:normal;font-weight:normal;color:#0d0d0d;transform:scaleX(1.0308);-webkit-text-stroke:0.25px #0d0d0d;">Fluffy pieces with ragged edges,</div>
<div class="t" style="left:307.90px;top:456.70px;font-size:14.53px;font-style:normal;font-weight:normal;color:#0d0d0d;transform:scaleX(1.0275);-webkit-text-stroke:0.25px #0d0d0d;">a mushy stool</div>
<div class="t" style="left:307.85px;top:506.70px;font-size:14.53px;font-style:normal;font-weight:normal;color:#0d0d0d;transform:scaleX(1.0122);-webkit-text-stroke:0.25px #0d0d0d;">Watery, no solid pieces.</div>
<div class="t" style="left:307.77px;top:525.70px;font-size:14.53px;font-style:normal;font-weight:normal;color:#0d0d0d;transform:scaleX(1.0617);-webkit-text-stroke:0.25px #0d0d0d;">Entirely liquid</div>
<div class="t" style="left:140.23px;top:575.11px;font-size:15.70px;font-style:normal;font-weight:bold;color:#0a0a0a;transform:scaleX(0.9992);">Alila Medical Media -</div>
<div class="t" style="left:297.93px;top:575.11px;font-size:15.70px;font-style:italic;font-weight:bold;color:#0a0a0a;transform:scaleX(0.9866);">www.AlilaMedicalMedia.com</div>
<div class="t" style="left:123.12px;top:572.93px;font-size:19.15px;font-weight:bold;color:#0a0a0a;transform:scaleX(0.9882)">&copy;</div>
<div class="t" style="left:60.00px;top:381.02px;font-size:26.16px;color:#168241;transform-origin:0 22.15px;transform:rotate(-90deg) scaleX(0.8945);will-change:transform;">Goal Stool Types</div>

</body></html>
